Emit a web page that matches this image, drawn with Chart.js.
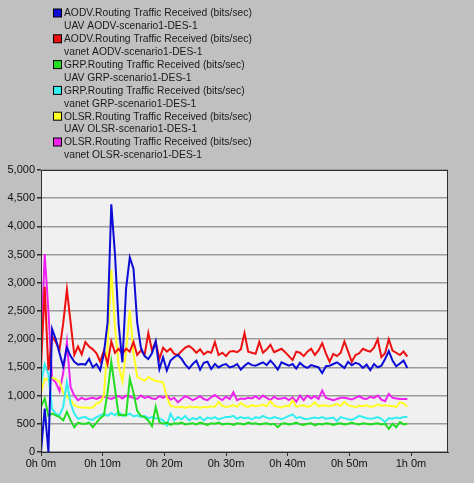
<!DOCTYPE html>
<html>
<head>
<meta charset="utf-8">
<script src="https://cdn.jsdelivr.net/npm/chart.js@4.4.0/dist/chart.umd.min.js"></script>
<style>
    html, body { margin: 0; padding: 0; background: #c0c0c0; overflow: hidden; }
    #wrap { width: 474px; height: 483px; position: relative; }
</style>
</head>
<body>
<div id="wrap"><canvas id="routing-chart"></canvas></div>
<script>
"use strict";

// sample spacing of the simulation output, in minutes
var step = 0.6;

var timeTicks = [0, 10, 20, 30, 40, 50, 60];
var tickLabels = ["0h 0m", "0h 10m", "0h 20m", "0h 30m", "0h 40m", "0h 50m", "1h 0m"];

var seriesNames = [
    ["AODV.Routing Traffic Received (bits/sec)", "UAV AODV-scenario1-DES-1"],
    ["AODV.Routing Traffic Received (bits/sec)", "vanet AODV-scenario1-DES-1"],
    ["GRP.Routing Traffic Received (bits/sec)", "UAV GRP-scenario1-DES-1"],
    ["GRP.Routing Traffic Received (bits/sec)", "vanet GRP-scenario1-DES-1"],
    ["OLSR.Routing Traffic Received (bits/sec)", "UAV OLSR-scenario1-DES-1"],
    ["OLSR.Routing Traffic Received (bits/sec)", "vanet OLSR-scenario1-DES-1"]
];

var aodvUav = [
    0, 770, 0, 2180, 2000, 1750, 1520, 1850, 1700, 1600,
    1550, 1560, 1550, 1650, 1500, 1560, 1450, 1750, 2300, 4390,
    3500, 2250, 1590, 2900, 3450, 3250, 2300, 1850, 1700, 1650,
    1750, 1960, 1470, 1680, 1445, 1620, 1680, 1720, 1650, 1550,
    1480, 1560, 1620, 1460, 1580, 1600, 1470, 1560, 1500, 1540,
    1560, 1500, 1520, 1560, 1460, 1530, 1580, 1540, 1530, 1560,
    1590, 1540, 1620, 1550, 1460, 1590, 1560, 1530, 1560, 1480,
    1580, 1520, 1490, 1540, 1520, 1500, 1400, 1520, 1530, 1560,
    1590, 1540, 1490, 1600, 1540, 1580, 1560, 1490, 1550, 1450,
    1560, 1500, 1530, 1650, 1790, 1620, 1520, 1570, 1620, 1490
];
var aodvVanet = [
    1500, 2930, 1450, 2050, 1950, 1820, 2280, 2880, 2300, 1720,
    1870, 1730, 1950, 1870, 1820, 1750, 1600, 1800, 1560, 1960,
    1760, 1830, 1740, 1830, 1780, 1950, 1720, 1800, 1720, 2110,
    1800, 1950, 1650, 1850, 1780, 1830, 1740, 1720, 1790, 1850,
    1880, 1830, 1760, 1820, 1730, 1780, 1760, 1950, 1720, 1760,
    1700, 1780, 1790, 1770, 1820, 2110, 1780, 1760, 1740, 1950,
    1760, 1820, 1900, 1770, 1800, 1830, 1770, 1700, 1630, 1780,
    1760, 1700, 1780, 1830, 1720, 1800, 1930, 1750, 1600, 1740,
    1700, 1760, 1960, 1780, 1600, 1720, 1750, 1830, 1800, 1780,
    1850, 2000, 1680, 1750, 2000, 1800, 1760, 1720, 1780, 1690
];
var grpUav = [
    800, 950, 640, 680, 650, 620, 560, 710, 560, 440,
    520, 500, 500, 520, 440, 520, 600, 650, 1060, 1600,
    1120, 650, 660, 650, 1300, 1050, 730, 640, 620, 560,
    460, 800, 530, 500, 520, 480, 510, 500, 520, 490,
    500, 510, 490, 520, 500, 480, 510, 500, 520, 490,
    500, 500, 480, 510, 500, 490, 520, 500, 510, 490,
    500, 510, 490, 500, 440, 500, 510, 490, 500, 520,
    490, 480, 500, 510, 470, 500, 490, 510, 500, 480,
    500, 510, 490, 500, 520, 500, 490, 510, 500, 490,
    500, 510, 490, 500, 410, 500, 440, 530, 490, 500
];
var grpVanet = [
    1200, 1560, 1380, 760, 680, 650, 800, 1240, 860, 680,
    590, 610, 620, 580, 570, 620, 650, 680, 640, 690,
    650, 710, 640, 650, 680, 630, 650, 620, 640, 600,
    620, 600, 590, 560, 470, 680, 560, 620, 580, 640,
    560, 600, 580, 620, 560, 610, 590, 620, 580, 600,
    620, 620, 640, 590, 620, 600, 610, 580, 620, 600,
    640, 610, 590, 620, 600, 580, 610, 640, 667, 600,
    620, 590, 580, 600, 610, 600, 620, 590, 600, 610,
    550, 620, 600, 580, 570, 600, 640, 620, 600, 590,
    600, 620, 590, 530, 600, 590, 610, 600, 620, 620
];
var olsrUav = [
    1050, 1300, 1280, 1320, 1290, 1250, 1050, 980, 920, 830,
    800, 790, 790, 780, 790, 860, 880, 1000, 1900, 3230,
    2200, 1530, 1250, 1800, 2520, 1750, 1330, 1300, 1260, 1330,
    1290, 1260, 1250, 1230, 970, 820, 800, 790, 800, 780,
    810, 790, 800, 780, 800, 790, 810, 800, 890, 820,
    800, 810, 830, 800, 870, 820, 800, 830, 810, 820,
    840, 810, 900, 820, 800, 790, 820, 810, 915, 800,
    820, 830, 800, 820, 880, 810, 830, 820, 810, 830,
    850, 820, 890, 830, 810, 800, 820, 810, 830, 800,
    810, 840, 820, 830, 820, 810, 800, 880, 860, 800
];
var olsrVanet = [
    1800, 3510, 2500, 1300, 1230, 1080, 1400, 1950, 1150, 1000,
    920, 960, 930, 950, 960, 940, 970, 980, 960, 940,
    970, 990, 950, 1000, 980, 960, 940, 1000, 960, 980,
    950, 940, 990, 960, 1000, 930, 960, 880, 940, 990,
    960, 920, 950, 990, 940, 920, 970, 1010, 960, 920,
    980, 940, 1060, 920, 950, 940, 960, 950, 990, 940,
    1000, 960, 920, 980, 940, 950, 960, 920, 970, 890,
    1000, 920, 1000, 950, 990, 940, 1090, 960, 940, 920,
    940, 960, 960, 950, 930, 960, 990, 950, 940, 980,
    960, 1000, 930, 900, 1030, 960, 950, 940, 940, 940
];

var seriesValues = [aodvUav, aodvVanet, grpUav, grpVanet, olsrUav, olsrVanet];
var seriesColors = ["#0c0cd6", "#ee1010", "#22dd22", "#33eef0", "#ffff22", "#ee22ee"];

var fontFamily = '"Liberation Sans", Arial, sans-serif';

function toPoints(values) {
    return values.map(function (v, i) {
        return { x: i * step, y: v };
    });
}

// paints the grey window, the plot face, the frame and the legend block
var oldStylePlugin = {
    id: 'oldStyle',
    beforeDraw: function (chart) {
        var ctx = chart.ctx;
        var a = chart.chartArea;
        ctx.save();
        ctx.fillStyle = '#c0c0c0';
        ctx.fillRect(0, 0, chart.width, chart.height);
        ctx.fillStyle = '#f0f0f0';
        ctx.fillRect(a.left, a.top, a.right - a.left, a.bottom - a.top);
        ctx.restore();
    },
    afterDraw: function (chart) {
        var ctx = chart.ctx;
        var a = chart.chartArea;
        ctx.save();
        ctx.strokeStyle = '#303030';
        ctx.lineWidth = 1;
        ctx.strokeRect(Math.round(a.left) + 0.5, Math.round(a.top) + 0.5,
            Math.round(a.right - a.left) - 1, Math.round(a.bottom - a.top));

        ctx.font = '10.3px ' + fontFamily;
        ctx.textBaseline = 'middle';
        chart.data.datasets.forEach(function (ds, i) {
            var y0 = 13.5 + i * 25.8;
            ctx.fillStyle = ds.borderColor;
            ctx.fillRect(53.5, y0 - 4.5, 8, 8);
            ctx.strokeStyle = '#000';
            ctx.strokeRect(53.5, y0 - 4.5, 8, 8);
            ctx.fillStyle = '#1a1a1a';
            ctx.fillText(ds.label[0], 64, y0);
            ctx.fillText(ds.label[1], 64, y0 + 12.8);
        });
        ctx.restore();
    }
};

function draw() {
    var datasets = seriesValues.map(function (values, i) {
        return {
            label: seriesNames[i],
            data: toPoints(values),
            borderColor: seriesColors[i],
            backgroundColor: seriesColors[i],
            borderWidth: 2,
            pointRadius: 0,
            tension: 0,
            fill: false
        };
    });

    new Chart(document.getElementById('routing-chart'), {
        type: 'line',
        data: { datasets: datasets },
        plugins: [oldStylePlugin],
        options: {
            responsive: true,
            maintainAspectRatio: false,
            animation: false,
            layout: { padding: { top: 170, right: 26, left: 0, bottom: 0 } },
            plugins: {
                legend: { display: false },
                tooltip: { enabled: false }
            },
            scales: {
                x: {
                    type: 'linear',
                    min: 0,
                    max: 66,
                    afterFit: function (scale) { scale.height = 31; },
                    afterBuildTicks: function (scale) {
                        scale.ticks = timeTicks.map(function (t) { return { value: t }; });
                    },
                    ticks: {
                        padding: 1,
                        maxRotation: 0,
                        color: '#111',
                        font: { family: fontFamily, size: 11 },
                        callback: function (value) {
                            var k = timeTicks.indexOf(value);
                            return k >= 0 ? tickLabels[k] : '';
                        }
                    },
                    grid: {
                        drawOnChartArea: false,
                        drawTicks: true,
                        tickLength: 4,
                        tickColor: '#303030'
                    },
                    border: { color: '#303030', width: 1 }
                },
                y: {
                    min: 0,
                    max: 5000,
                    afterFit: function (scale) { scale.width = 41; },
                    ticks: {
                        stepSize: 500,
                        padding: 2,
                        color: '#111',
                        font: { family: fontFamily, size: 11 },
                        callback: function (value) {
                            return value.toLocaleString('en-US');
                        }
                    },
                    grid: {
                        color: '#9c9c9c',
                        lineWidth: 1.5,
                        tickLength: 4,
                        tickColor: '#303030'
                    },
                    border: { color: '#303030', width: 1 }
                }
            }
        }
    });
}
draw();
</script>
</body>
</html>
